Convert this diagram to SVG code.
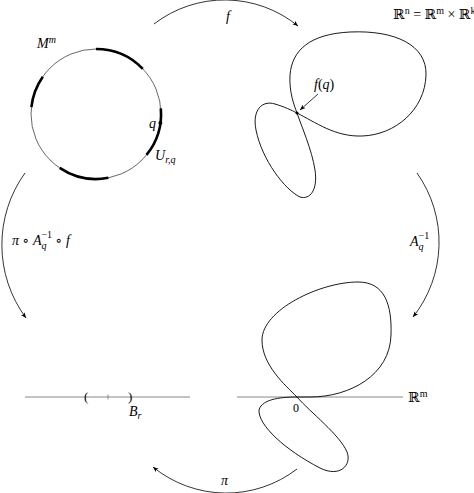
<svg xmlns="http://www.w3.org/2000/svg" width="474" height="493" viewBox="0 0 474 493">
<defs>
<style>
text{font-family:"Liberation Serif","DejaVu Serif",serif;font-size:14px;fill:#000}
.it{font-style:italic}
.sub{font-size:10px}
.curve{fill:none;stroke:#000;stroke-width:0.9}
.thin{fill:none;stroke:#000;stroke-width:0.6}
.thick{fill:none;stroke:#000;stroke-width:2.6}
.axis{fill:none;stroke:#888;stroke-width:1}
.conn{fill:none;stroke:#000;stroke-width:0.8;marker-end:url(#ah)}
</style>
<marker id="ah" viewBox="-6 -3 7 6" refX="0" refY="0" markerWidth="7" markerHeight="6" markerUnits="userSpaceOnUse" orient="auto">
<path d="M0,0 L-5.5,-2.3 L-4,0 L-5.5,2.3 Z" fill="#000"/>
</marker>
</defs>

<g id="connectors">
<path class="conn" d="M154,24 A116 116 0 0 1 298,26"/>
<path class="conn" d="M417,173 A120 120 0 0 1 413,317"/>
<path class="conn" d="M297,469 A116 116 0 0 1 153,467"/>
<path class="conn" d="M25,173 A123 123 0 0 0 26,318"/>
<text x="226" y="21" class="it">f</text>
<text x="410" y="246"><tspan class="it">A</tspan><tspan class="it sub" dy="4">q</tspan><tspan class="sub" dx="-5" dy="-11">−1</tspan></text>
<text x="221" y="485" class="it">π</text>
<text x="12" y="245"><tspan class="it">π</tspan> ∘ <tspan class="it">A</tspan><tspan class="it sub" dy="4">q</tspan><tspan class="sub" dx="-5" dy="-11">−1</tspan><tspan dy="7"> ∘ </tspan><tspan class="it">f</tspan></text>
</g>

<g id="manifold">
<circle class="thin" cx="96" cy="114" r="65"/>
<path class="thick" d="M96,49 A65 65 0 0 1 142.8,68.8"/>
<path class="thick" d="M160.8,108.3 A65 65 0 0 1 146.5,154.9"/>
<path class="thick" d="M108.4,177.8 A65 65 0 0 1 59.7,167.9"/>
<path class="thick" d="M31.4,107.2 A65 65 0 0 1 42.8,76.7"/>
<circle cx="160.4" cy="123" r="2" fill="#000"/>
<text x="37" y="48" class="it">M<tspan class="sub" dy="-5">m</tspan></text>
<text x="149" y="128" class="it">q</text>
<text x="155" y="160" class="it">U<tspan class="sub" dy="3">r,q</tspan></text>
</g>

<g id="immersed-curve">
<path class="curve" d="M297,113 C315,122 335,137 362,136 C395,135 425,110 426,75 C427,45 395,30 350,32 C310,34 292,50 290,75 C289,92 294,105 297,113 C301,125 312,150 315,170 C318,190 310,200 300,197 C285,190 262,160 256,130 C252,110 262,100 275,104 C285,107 291,110 297,113 Z"/>
<circle cx="297" cy="113" r="1.5" fill="#000"/>
<path class="conn" d="M318,94 L300,110"/>
<text x="314" y="89"><tspan class="it">f</tspan>(<tspan class="it">q</tspan>)</text>
<text x="393" y="19">ℝ<tspan class="sub" dy="-5">n</tspan><tspan dy="5"> = ℝ</tspan><tspan class="sub" dy="-5">m</tspan><tspan dy="5"> × ℝ</tspan><tspan class="sub" dy="-5">k</tspan></text>
</g>

<g id="translated-curve">
<path class="axis" d="M237,397 L403,397"/>
<path class="curve" d="M297,397 C285,385 262,365 262,340 C262,310 320,282 358,282 C385,282 392,305 391,335 C390,375 350,397 310,397 L297,397 C285,397 262,398 259,410 C258,425 285,450 320,468 C340,478 352,465 347,452 C340,435 310,412 297,397 Z"/>
<text x="293" y="412" style="font-size:12px">0</text>
<text x="408" y="402">ℝ<tspan class="sub" dy="-5">m</tspan></text>
</g>

<g id="base-line">
<path class="axis" d="M25,397 L190,397"/>
<path class="axis" d="M108,394.5 L108,399.5"/>
<text x="84" y="401" style="font-size:13px">(</text>
<text x="128" y="401" style="font-size:13px">)</text>
<text x="129" y="416" class="it">B<tspan class="sub" dy="3">r</tspan></text>
</g>
</svg>
